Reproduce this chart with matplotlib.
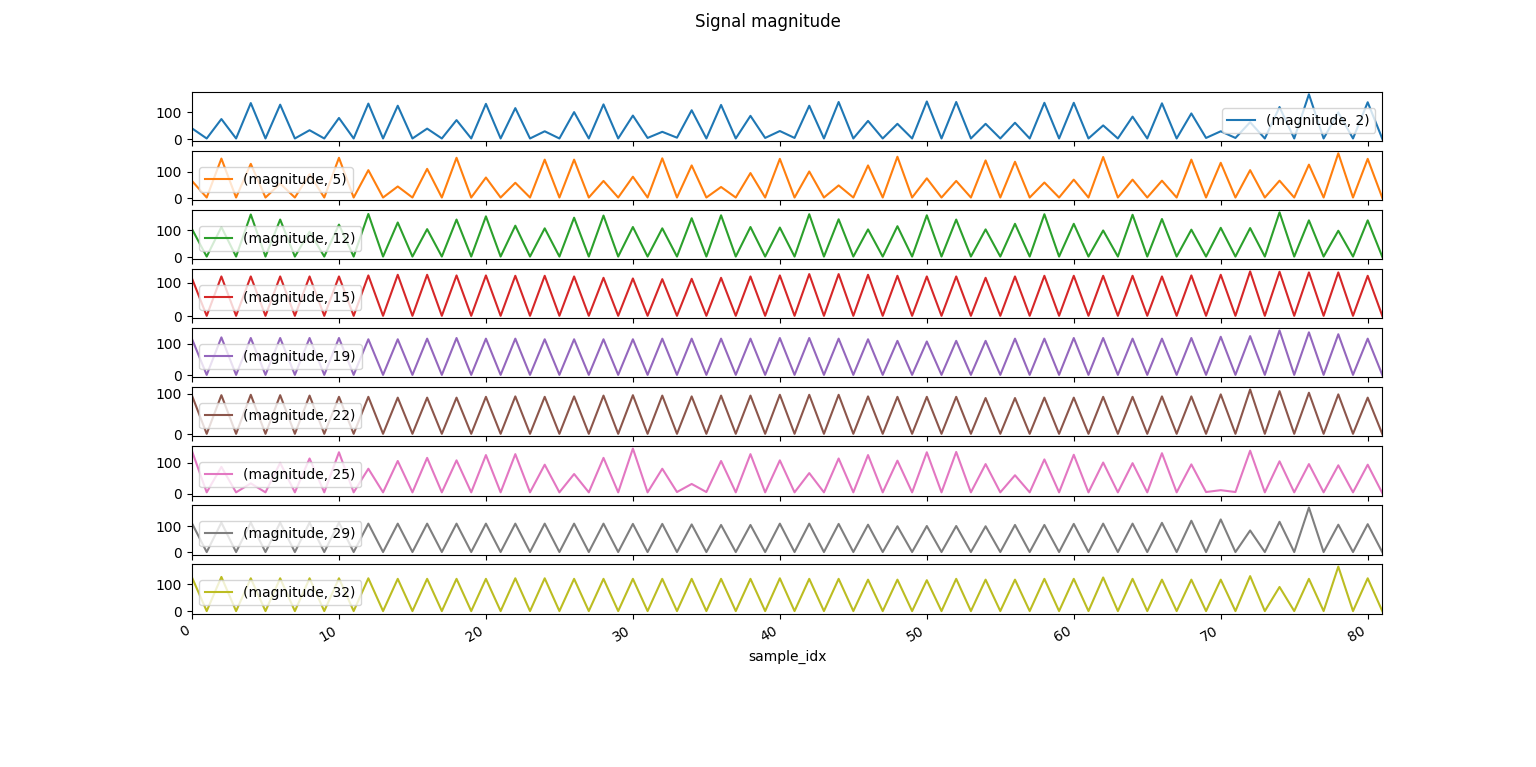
# ===== IMPORT LIBRARIES =====
import numpy as np
import pandas as pd
import matplotlib
matplotlib.use("Agg")
import matplotlib.pyplot as plt

# ===== DATA =====
# magnitude per sample (x = sample_idx 0..81)
mag_2 = [40, 2, 75, 2, 135, 2, 129, 2, 33, 2,
         79, 2, 133, 2, 125, 2, 39, 2, 71, 2,
         132, 2, 116, 2, 29, 2, 101, 2, 130, 2,
         88, 4, 27, 5, 108, 2, 128, 2, 87, 4,
         30, 4, 125, 2, 139, 2, 68, 2, 57, 2,
         141, 2, 139, 2, 57, 2, 61, 2, 136, 2,
         136, 2, 51, 2, 84, 2, 134, 2, 96, 4,
         29, 4, 63, 2, 120, 2, 168, 2, 100, 2,
         138, 0]

mag_5 = [65, 2, 150, 2, 130, 2, 55, 2, 90, 2,
         153, 2, 106, 2, 44, 2, 111, 2, 153, 2,
         78, 2, 58, 2, 146, 2, 146, 2, 65, 2,
         81, 2, 151, 2, 124, 2, 42, 2, 95, 2,
         149, 2, 101, 2, 48, 2, 124, 2, 157, 2,
         75, 2, 65, 2, 143, 2, 138, 2, 59, 2,
         70, 2, 156, 2, 70, 2, 66, 2, 146, 2,
         134, 2, 106, 2, 66, 2, 127, 2, 170, 2,
         149, 0]

mag_12 = [105, 2, 113, 2, 160, 2, 141, 2, 95, 2,
          122, 2, 162, 2, 130, 2, 105, 2, 141, 2,
          153, 2, 118, 2, 108, 2, 148, 2, 156, 2,
          113, 2, 108, 2, 146, 2, 157, 2, 113, 2,
          111, 2, 161, 2, 142, 2, 104, 2, 116, 2,
          157, 2, 141, 2, 104, 2, 125, 2, 161, 2,
          125, 2, 100, 2, 159, 2, 143, 2, 103, 2,
          110, 2, 109, 2, 168, 2, 138, 2, 99, 2,
          138, 0]

mag_15 = [112, 1, 118, 1, 118, 1, 118, 1, 118, 1,
          118, 1, 121, 1, 123, 1, 123, 1, 121, 1,
          121, 1, 120, 1, 120, 1, 118, 1, 114, 1,
          112, 1, 110, 1, 111, 1, 114, 1, 118, 1,
          121, 1, 125, 1, 125, 1, 123, 1, 120, 1,
          118, 1, 118, 1, 114, 1, 118, 1, 120, 1,
          120, 1, 120, 1, 120, 1, 118, 1, 121, 1,
          123, 1, 133, 1, 132, 1, 130, 1, 130, 1,
          120, 0]

mag_19 = [115, 1, 120, 1, 118, 1, 118, 1, 118, 1,
          118, 1, 114, 1, 114, 1, 116, 1, 118, 1,
          116, 1, 116, 1, 114, 1, 114, 1, 114, 1,
          114, 1, 116, 1, 116, 1, 116, 1, 116, 1,
          118, 1, 118, 1, 116, 1, 114, 1, 109, 1,
          107, 1, 109, 1, 109, 1, 116, 1, 116, 1,
          118, 1, 118, 1, 116, 1, 116, 1, 118, 1,
          122, 1, 124, 1, 142, 1, 136, 1, 130, 1,
          116, 0]

mag_22 = [95, 1, 96, 1, 97, 1, 96, 1, 95, 1,
          92, 1, 92, 1, 90, 1, 90, 1, 90, 1,
          92, 1, 93, 1, 92, 1, 93, 1, 95, 1,
          96, 1, 95, 1, 93, 1, 95, 1, 95, 1,
          97, 1, 97, 1, 97, 1, 93, 1, 92, 1,
          92, 1, 92, 1, 89, 1, 89, 1, 90, 1,
          90, 1, 92, 1, 92, 1, 93, 1, 93, 1,
          98, 1, 110, 1, 106, 1, 102, 1, 98, 1,
          90, 0]

mag_25 = [138, 5, 87, 5, 34, 5, 100, 5, 114, 5,
          134, 5, 81, 5, 106, 5, 116, 5, 108, 5,
          125, 5, 128, 5, 94, 5, 64, 5, 116, 5,
          146, 5, 81, 6, 32, 6, 106, 5, 128, 5,
          108, 5, 67, 5, 114, 5, 125, 5, 107, 5,
          134, 5, 135, 5, 96, 5, 60, 5, 111, 5,
          126, 5, 101, 5, 99, 5, 131, 5, 95, 6,
          12, 6, 139, 5, 105, 5, 96, 5, 92, 5,
          94, 2]

mag_29 = [110, 1, 113, 1, 113, 1, 113, 1, 113, 1,
          113, 1, 109, 1, 109, 1, 109, 1, 109, 1,
          109, 1, 109, 1, 109, 1, 109, 1, 109, 1,
          108, 1, 108, 1, 106, 1, 104, 1, 104, 1,
          109, 1, 109, 1, 108, 1, 105, 1, 99, 1,
          100, 1, 100, 1, 99, 1, 104, 1, 104, 1,
          108, 1, 109, 1, 109, 1, 112, 1, 120, 1,
          125, 1, 83, 1, 116, 1, 170, 1, 105, 1,
          107, 0]

mag_32 = [125, 1, 127, 1, 122, 1, 122, 1, 122, 1,
          122, 1, 122, 1, 120, 1, 120, 1, 120, 1,
          120, 1, 122, 1, 122, 1, 120, 1, 120, 1,
          120, 1, 120, 1, 120, 1, 120, 1, 120, 1,
          122, 1, 120, 1, 120, 1, 117, 1, 117, 1,
          115, 1, 120, 1, 117, 1, 117, 1, 120, 1,
          120, 1, 125, 1, 120, 1, 117, 1, 117, 1,
          117, 1, 130, 1, 90, 1, 120, 1, 165, 1,
          122, 0]

channels = [2, 5, 12, 15, 19, 22, 25, 29, 32]
series = [mag_2, mag_5, mag_12, mag_15, mag_19, mag_22, mag_25, mag_29, mag_32]

# ===== PANDAS SECTION =====
cols = pd.MultiIndex.from_tuples([("magnitude", c) for c in channels])
df = pd.DataFrame(np.array(series).T, columns=cols)
df.index.name = "sample_idx"

# ===== MATPLOTLIB SECTION =====
axes = df.plot(subplots=True, figsize=(15.36, 7.67), legend=False)
fig = axes[0].get_figure()
fig.suptitle("Signal magnitude", y=0.983)
for i, ax in enumerate(axes):
    ax.set_xlim(0, 81)
    if i == 0:
        ax.legend(loc="center right", bbox_to_anchor=(1, 0.42))
    else:
        ax.legend(loc="center left", bbox_to_anchor=(0, 0.42))
fig.autofmt_xdate()
fig.savefig("out.png", dpi=100)
